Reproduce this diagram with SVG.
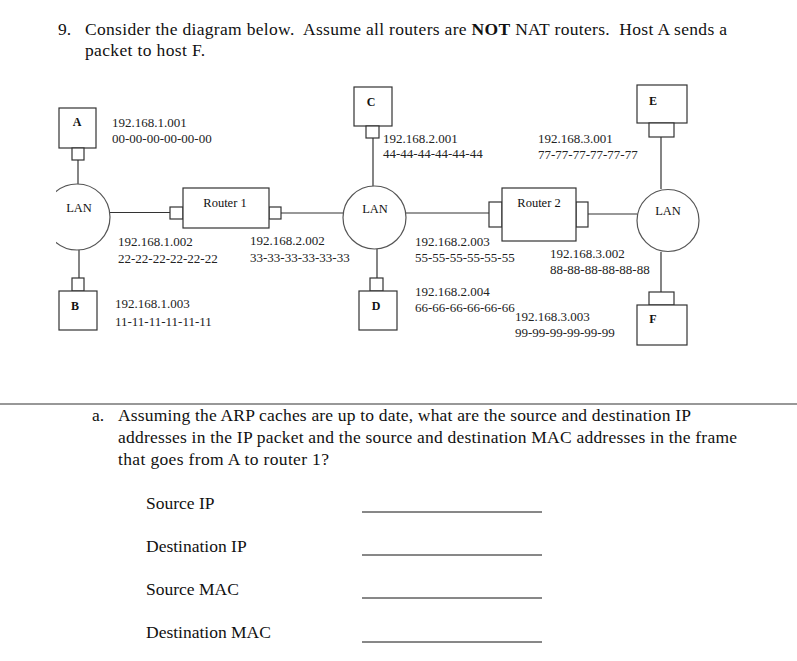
<svg xmlns="http://www.w3.org/2000/svg" width="797" height="661" viewBox="0 0 797 661">
<defs>
<style>
.t{font-family:"Liberation Serif","Times New Roman",serif;fill:#111}
.q{font-size:17.5px}
.l{font-size:13px;fill:#222}
.n{font-size:12.5px;fill:#111}
.h{font-size:12px;font-weight:bold;text-anchor:middle}
.box{fill:#fff;stroke:#333;stroke-width:1.2}
.lan{fill:#fff;stroke:#555;stroke-width:1.2}
.w{stroke:#333;stroke-width:1.2;fill:none}
</style>
<clipPath id="clipL"><rect x="56" y="150" width="80" height="120"/></clipPath>
</defs>
<rect width="797" height="661" fill="#fff"/>

<g id="question">
<text class="t q" x="58" y="35">9.</text>
<text class="t q" x="85" y="35" xml:space="preserve" textLength="642" lengthAdjust="spacing">Consider the diagram below.  Assume all routers are <tspan font-weight="bold">NOT</tspan> NAT routers.  Host A sends a</text>
<text class="t q" x="85" y="56" textLength="120" lengthAdjust="spacing">packet to host F.</text>
</g>

<g id="connectors">
<line class="w" x1="78" y1="160" x2="78" y2="184"/>
<line class="w" x1="79" y1="250" x2="79" y2="278"/>
<line class="w" x1="110" y1="212.5" x2="170" y2="212.5"/>
<line class="w" x1="281" y1="213" x2="343" y2="213"/>
<line class="w" x1="373" y1="138" x2="373" y2="186"/>
<line class="w" x1="377" y1="249" x2="377" y2="278"/>
<line class="w" x1="406" y1="213" x2="489" y2="213"/>
<line class="w" x1="588" y1="214" x2="637" y2="214"/>
<line class="w" x1="661" y1="137" x2="661" y2="189"/>
<line class="w" x1="661" y1="252" x2="661" y2="292"/>
</g>

<g id="lan1">
<circle class="lan" cx="77" cy="217" r="33" clip-path="url(#clipL)"/>
<text class="t n" x="79" y="212" text-anchor="middle">LAN</text>
</g>
<g id="lan2">
<circle class="lan" cx="374.5" cy="217.5" r="31.5"/>
<text class="t n" x="375" y="213" text-anchor="middle">LAN</text>
</g>
<g id="lan3">
<circle class="lan" cx="668" cy="220.5" r="31"/>
<text class="t n" x="668" y="215" text-anchor="middle">LAN</text>
</g>

<g id="hostA">
<rect class="box" x="59" y="108" width="37" height="40"/>
<rect class="box" x="72" y="148" width="12" height="12"/>
<text class="t h" x="77" y="126">A</text>
<text class="t l" x="112" y="127">192.168.1.001</text>
<text class="t l" x="112" y="143">00-00-00-00-00-00</text>
</g>

<g id="hostB">
<rect class="box" x="72" y="278" width="12" height="13"/>
<rect class="box" x="59" y="291" width="38" height="39"/>
<text class="t h" x="75" y="310">B</text>
<text class="t l" x="115" y="308">192.168.1.003</text>
<text class="t l" x="115" y="326">11-11-11-11-11-11</text>
</g>

<g id="router1">
<rect class="box" x="170" y="207" width="13" height="12"/>
<rect class="box" x="269" y="207" width="12" height="12"/>
<rect class="box" x="183" y="188" width="86" height="40"/>
<text class="t n" x="225" y="207" text-anchor="middle">Router 1</text>
<text class="t l" x="118" y="246">192.168.1.002</text>
<text class="t l" x="118" y="263">22-22-22-22-22-22</text>
<text class="t l" x="250" y="245">192.168.2.002</text>
<text class="t l" x="250" y="262">33-33-33-33-33-33</text>
</g>

<g id="hostC">
<rect class="box" x="354" y="87" width="38" height="39"/>
<rect class="box" x="366" y="126" width="13" height="12"/>
<text class="t h" x="371" y="106">C</text>
<text class="t l" x="383" y="143">192.168.2.001</text>
<text class="t l" x="383" y="158">44-44-44-44-44-44</text>
</g>

<g id="hostD">
<rect class="box" x="370" y="278" width="13" height="13"/>
<rect class="box" x="359" y="291" width="38" height="39"/>
<text class="t h" x="376" y="310">D</text>
<text class="t l" x="415" y="296">192.168.2.004</text>
<text class="t l" x="415" y="312">66-66-66-66-66-66</text>
</g>

<g id="router2">
<rect class="box" x="489" y="202" width="13" height="25"/>
<rect class="box" x="576" y="202" width="12" height="25"/>
<rect class="box" x="502" y="188" width="74" height="53"/>
<text class="t n" x="539" y="207" text-anchor="middle">Router 2</text>
<text class="t l" x="415" y="246">192.168.2.003</text>
<text class="t l" x="415" y="262">55-55-55-55-55-55</text>
<text class="t l" x="538" y="143">192.168.3.001</text>
<text class="t l" x="538" y="159">77-77-77-77-77-77</text>
<text class="t l" x="550" y="258">192.168.3.002</text>
<text class="t l" x="550" y="274">88-88-88-88-88-88</text>
</g>

<g id="hostE">
<rect class="box" x="637" y="85" width="50" height="38"/>
<rect class="box" x="649" y="123" width="25" height="14"/>
<text class="t h" x="653" y="105">E</text>
</g>

<g id="hostF">
<rect class="box" x="649" y="292" width="25" height="13"/>
<rect class="box" x="637" y="305" width="50" height="40"/>
<text class="t h" x="653" y="323">F</text>
<text class="t l" x="515" y="321">192.168.3.003</text>
<text class="t l" x="515" y="337">99-99-99-99-99-99</text>
</g>

<g id="partA">
<line x1="0" y1="404" x2="797" y2="404" stroke="#333" stroke-width="1.2"/>
<text class="t q" x="92" y="421">a.</text>
<text class="t q" x="118" y="421" textLength="573" lengthAdjust="spacing">Assuming the ARP caches are up to date, what are the source and destination IP</text>
<text class="t q" x="118" y="443" textLength="619" lengthAdjust="spacing">addresses in the IP packet and the source and destination MAC addresses in the frame</text>
<text class="t q" x="118" y="465" textLength="211" lengthAdjust="spacing">that goes from A to router 1?</text>
<text class="t q" x="146" y="509">Source IP</text>
<text class="t q" x="146" y="552">Destination IP</text>
<text class="t q" x="146" y="595">Source MAC</text>
<text class="t q" x="146" y="638">Destination MAC</text>
<line x1="362" y1="512" x2="542" y2="512" stroke="#111" stroke-width="1"/>
<line x1="362" y1="555" x2="542" y2="555" stroke="#111" stroke-width="1"/>
<line x1="362" y1="598" x2="542" y2="598" stroke="#111" stroke-width="1"/>
<line x1="362" y1="642" x2="542" y2="642" stroke="#111" stroke-width="1"/>
</g>
</svg>
